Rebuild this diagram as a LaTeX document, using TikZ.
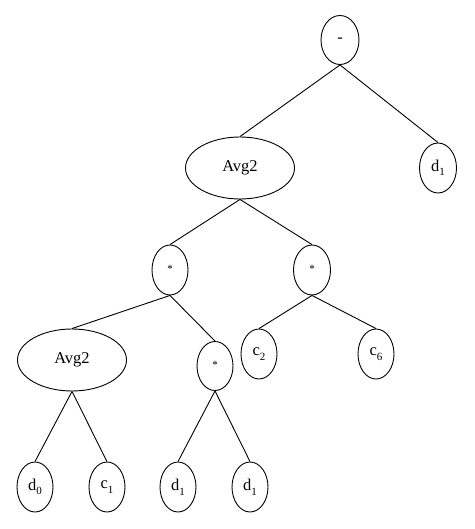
\documentclass[tikz,border=0pt]{standalone}
\usepackage{fontspec}
\setmainfont{Liberation Serif}
\usetikzlibrary{shapes.geometric}
\newcommand\subs[1]{\raisebox{-0.6ex}{\fontsize{11}{11}\selectfont #1}}
\newcommand\opstar{\raisebox{0.3ex}{\fontsize{11}{11}\selectfont *}}
\tikzset{
  tnode/.style={ellipse, draw, line width=0.9pt, inner sep=0pt,
    minimum width=36pt, minimum height=50pt, font=\fontsize{16.5}{18}\selectfont},
  wnode/.style={tnode, minimum width=109pt, minimum height=62pt},
  edge/.style={line width=0.9pt}
}
\begin{document}
\begin{tikzpicture}[x=1pt,y=-1pt]
\useasboundingbox (0,0) rectangle (474,529);
\node[tnode, minimum width=38pt, minimum height=49pt] (minus) at (340,40) {-};
\node[wnode] (avgA) at (240,168) {Avg2};
\node[tnode, minimum width=37pt] (d1r) at (438,168) {d\subs{1}};
\node[tnode] (starL) at (170,270) {\opstar};
\node[tnode, minimum width=37pt] (starR) at (312,270) {\opstar};
\node[wnode] (avgB) at (72,360) {Avg2};
\node[tnode, minimum height=49pt] (starM) at (215,366) {\opstar};
\node[tnode] (c2) at (259,354) {c\subs{2}};
\node[tnode] (c6) at (376,354) {c\subs{6}};
\node[tnode] (d0) at (35,487) {d\subs{0}};
\node[tnode] (c1) at (107,487) {c\subs{1}};
\node[tnode] (d1a) at (178,487) {d\subs{1}};
\node[tnode] (d1b) at (250,487) {d\subs{1}};
\draw[edge] (minus.south) -- (avgA.north);
\draw[edge] (minus.south) -- (d1r.north);
\draw[edge] (avgA.south) -- (starL.north);
\draw[edge] (avgA.south) -- (starR.north);
\draw[edge] (starL.south) -- (avgB.north);
\draw[edge] (starL.south) -- (starM.north);
\draw[edge] (starR.south) -- (c2.north);
\draw[edge] (starR.south) -- (c6.north);
\draw[edge] (avgB.south) -- (d0.north);
\draw[edge] (avgB.south) -- (c1.north);
\draw[edge] (starM.south) -- (d1a.north);
\draw[edge] (starM.south) -- (d1b.north);
\end{tikzpicture}
\end{document}
